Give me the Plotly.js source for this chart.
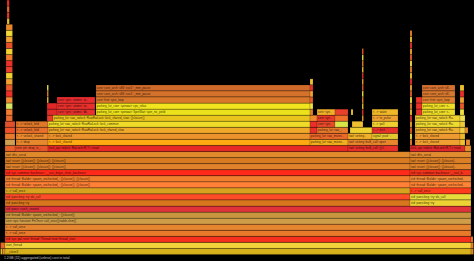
<!DOCTYPE html>
<html>
<head>
<meta charset="utf-8">
<script src="https://cdn.plot.ly/plotly-3.0.1.min.js"></script>
<style>html,body{margin:0;padding:0;background:#000;}#chart{width:474px;height:261px;}</style>
</head>
<body>
<div id="chart"></div>
<script>
// ---- Main frames (stack depth, first sample, sample count, function name) ----
const frameDepth = [
  0,0,0,0,
  1,1,1,
  2,2,
  3,4,5,6,7,
  8,8, 9,9, 10,10, 11,11, 12,12, 13,13, 14,14, 15,15, 16,16,
  17,17,17,17,17,
  18,18,18,18,18,18,18,
  19,19,19,19,19,19,19,
  20,20,20,20,20,20,20,20,20,
  21,21,21,21,21,21,21,21,21,
  22,22,22,22,22,22,22,22,
  23,23,23,23,23,23,23,23,23,
  24,24,24,24,24,
  25,25,25,25,
  26,26,
  27,27
];
const frameStart = [
  0.5,2.5,5,471,
  0.5,5,471,
  5,471,
  5,5,5,5,5,
  5,410, 5,410, 5,410, 5,410, 5,410, 5,410, 5,410, 5,410, 5,410,
  15,48,348,410,465,
  16,48,310,348,415,460,466,
  16,48,310,348,372,415,460,
  16,48,310,317,350,372,415,460,465,
  16,48,310,317,335,352,372,415,460,
  47,53,310,317,335,372,415,460,
  47,57,96,317,335,351,372,416,422,
  47,57,96,416,422,
  57,96,416,422,
  96,422,
  96,422
];
const frameSamples = [
  2,2.5,466,2.5,
  4.5,466,2.5,
  466,2,
  466,466,466,466,466,
  405,61, 405,61, 405,61, 405,61, 405,61, 405,61, 405,61, 405,61, 405,61,
  33,300,50,55,6,
  32,262,38,50,45,5,4,
  32,262,38,24,26,45,5,
  32,262,7,31,22,26,45,5,3,
  32,262,7,18,13,11,26,45,5,
  6,257,7,18,13,26,45,5,
  10,38,214,18,13,2,26,6,33,
  10,38,214,6,33,
  38,214,6,33,
  214,33,
  214,33
];
const frameName = [
  "","","__clone3","",
  "","start_thread","",
  "std::sys::pal::unix::thread::Thread::new::thread_start","",
  "<..>::call_once",
  "<..>::call_once",
  "core::ops::function::FnOnce::call_once{{vtable.shim}}",
  "std::thread::Builder::spawn_unchecked_::{{closure}}",
  "std::panic::catch_unwind",
  "std::panicking::try","std::panicking::try",
  "std::panicking::try::do_call","std::panicking::try::do_call",
  "<..>::call_once","<..>::call_once",
  "std::thread::Builder::spawn_unchecked_::{{closure}}::{{closure}}","std::thread::Builder::spawn_unchecked_::{{closure}}::{{closure}}",
  "std::thread::Builder::spawn_unchecked_::{{closure}}::{{closure}}","std::thread::Builder::spawn_unchecked_::{{closure}}::{{closure}}",
  "std::sys::common::backtrace::__rust_begin_short_backtrace","std::sys::common::backtrace::__rust_begin_short_backtrace",
  "tool::insert::{{closure}}::{{closure}}::{{closure}}","tool::insert::{{closure}}::{{closure}}::{{closure}}",
  "tool::insert::{{closure}}::{{closure}}::{{closure}}","tool::insert::{{closure}}::{{closure}}::{{closure}}",
  "tool::dhs_serial","tool::dhs_serial",
  "core::ptr::drop_in_place<parking_lot::RwLockReadGuard>","lock_api::rwlock::RwLock<R,T>::read","tool::setting::bulk_call::{{closure}}","lock_api::rwlock::RwLock<R,T>::read","",
  "<..>::drop","<..>::lock_shared","parking_lot::raw_mutex::RawMutex::lock","tool::setting::bulk_call::open","<..>::lock_shared","","",
  "<..>::unlock_shared","<..>::lock_shared","parking_lot::raw_mutex::RawMutex::lock_slow","tool::setting::get","signal::pool::Pool::get","<..>::lock_shared","",
  "<..>::unlock_fold","parking_lot::raw_rwlock::RawRwLock::lock_shared_slow","","parking_lot::raw_mutex::RawMutex::lock_slow","","<..>::lock","parking_lot::raw_rwlock::RawRwLock::lock_shared_slow","","",
  "<..>::unlock_fold","parking_lot::raw_rwlock::RawRwLock::lock_common","","core::sync::atomic::AtomicUsize::compare_exchange_weak","","","<..>::poll","parking_lot::raw_rwlock::RawRwLock::lock_common","",
  "","parking_lot::raw_rwlock::RawRwLock::lock_shared_slow::{{closure}}","","core::sync::atomic::atomic_compare_exchange_weak","","<..>::to_pulse","parking_lot::raw_rwlock::RawRwLock::lock_shared_slow::{{closure}}","",
  "","core::sync::atomic::AtomicUsize::load","parking_lot_core::spinwait::SpinWait::spin_no_yield","core::sync::atomic::AtomicUsize::load","","","<..>::wake","","parking_lot_core::spinwait::SpinWait::spin_no_yield",
  "","core::sync::atomic::atomic_load","parking_lot_core::spinwait::cpu_relax","","parking_lot_core::spinwait::cpu_relax",
  "core::sync::atomic::atomic_load","core::hint::spin_loop","","core::hint::spin_loop",
  "core::core_arch::x86::sse2::_mm_pause","core::core_arch::x86::sse2::_mm_pause",
  "core::core_arch::x86::sse2::_mm_pause","core::core_arch::x86::sse2::_mm_pause"
];

// ---- Left tall stack (depth, first sample, sample count) ----
const towerDepth   = [17,18,19,20,21,22,23,24,25,26,27,28,29,30,31,32,33,34,35,36,37,38,39,40,41];
const towerStart   = [5,5,5,5,5,6,6,6,6,6,6,6,6,6,6,6,6,6,6,6,6,7,7,7,7];
const towerSamples = [10,10,10,10,10,6.5,6.5,6.5,6.5,6.5,6.5,6.5,6.5,6.5,6.5,6.5,6.5,6.5,6.5,6.5,6.5,2.3,2.3,2.3,2.3];

// ---- Narrow deep stacks (first sample, sample count, lowest and highest depth) ----
const spikeStart   = [47, 362, 410, 310, 460];
const spikeSamples = [1.5, 1.5, 2, 3, 4];
const spikeBottom  = [25, 22, 18, 23, 23];
const spikeTop     = [27, 33, 36, 28, 27];

// ---- Footer ----
const footerText = "1.2GB (11) aggregated (unless) cost in total";

// ---- Styles (frame colours) ----
const frameColor = [
  "#e2c224","#e8902e","#d8b21c","#e0862c",
  "#e8682a","#f2d43a","#e87a2c",
  "#f5301c","#e0802a",
  "#e8782a","#e68530","#cf9c48","#c9953e","#e0343a",
  "#d8761e","#ecd232", "#ff4c28","#e6dc3c", "#d9a21e","#ff3c1c", "#ff8036","#ff8434", "#f07e2e","#f08a38",
  "#ff2a1a","#f2341c", "#e0822c","#e2842a", "#d87a22","#dc7e26", "#e08a2c","#e28c30",
  "#e8552a","#e62a26","#e8302a","#e02a2a","#e8902c",
  "#e8882c","#ffaa10","#f2b01e","#e8862c","#f0a030","#f0c030","#e88a2a",
  "#ec8a2e","#ec922c","#ee6a2a","#f0b028","#e8c830","#ef9a30","#f0b828",
  "#e8702a","#f0a828","#e8302a","#e87a2c","#f0d030","#e8302a","#f0b030","#f0d040","#e88a2a",
  "#e0782a","#f0dc28","#e83028","#e84a2a","#d8e64a","#f0c030","#f0d030","#f0dc30","#f0c838",
  "#e83a2a","#e9c41c","#f08a30","#e83a28","#f0702a","#f0a030","#f0d030","#f0e050",
  "#e02a2a","#e8302c","#ece21c","#f0b028","#e8402a","#f0c030","#f0b828","#e8322a","#ecdc28",
  "#e0282a","#e8302c","#f2e41e","#e8322a","#f0e026",
  "#e62c2e","#d9782a","#e8322a","#e0802e",
  "#d4722c","#d8782e",
  "#d06a2a","#d47030"
];
const towerColor = ["#e8602a","#d0a050","#e87a2a","#f05028","#e0502a","#e86a30","#f07a30","#d8e460","#f08a30","#e8302a","#e85a2a","#f0a030","#f0d030","#e8402a","#e8302a","#f07a2a","#f0d030","#e8502a","#f0a030","#f0d838","#e8882a","#f0c030","#e83a2a","#e8702a","#e8302a"];
const spikePalette = ["#e8302a","#f0c030","#e8802a","#f0e040","#e85a2a","#f0a030"];

// ---- Build the bar arrays ----
const D = [], S = [], W = [], N = [], C = [];
function add(d, s, w, n, c) { D.push(d); S.push(s); W.push(w); N.push(n); C.push(c); }
frameDepth.forEach((d, i) => add(d, frameStart[i], frameSamples[i], frameName[i], frameColor[i]));
towerDepth.forEach((d, i) => add(d, towerStart[i], towerSamples[i], "", towerColor[i]));
spikeStart.forEach((s, i) => {
  for (let d = spikeBottom[i]; d <= spikeTop[i]; d++) {
    add(d, s, spikeSamples[i], "", spikePalette[(d + i) % spikePalette.length]);
  }
});

function fitLabel(name, w) {
  const cw = 1.5;
  const max = Math.floor((w - 1.5) / cw);
  if (!name) return "";
  if (name.length <= max) return "\u00a0" + name;
  if (max < 4) return "";
  return "\u00a0" + name.slice(0, max - 2) + "..";
}
const labels = N.map((n, i) => fitLabel(n, W[i]));

const trace = {
  type: "bar",
  orientation: "h",
  y: D,
  x: W,
  base: S,
  text: labels,
  textposition: "inside",
  insidetextanchor: "start",
  constraintext: "none",
  textangle: 0,
  insidetextfont: { family: "Liberation Sans, Arial, sans-serif", size: 3, color: "rgba(0,0,0,0.8)" },
  marker: { color: C, line: { color: "rgba(0,0,0,0.45)", width: 0.35 } },
  hoverinfo: "skip"
};

const layout = {
  width: 474,
  height: 261,
  margin: { l: 0, r: 0, t: 0, b: 0, pad: 0 },
  paper_bgcolor: "#000",
  plot_bgcolor: "#000",
  showlegend: false,
  barmode: "overlay",
  bargap: 0.04,
  xaxis: { range: [0, 474], visible: false, fixedrange: true },
  yaxis: { range: [-1.568, 41.5], visible: false, fixedrange: true },
  annotations: [{
    text: footerText,
    xref: "paper", yref: "paper",
    x: 0.004, y: 0.013,
    xanchor: "left", yanchor: "middle",
    showarrow: false,
    font: { family: "Liberation Sans, Arial, sans-serif", size: 3.4, color: "#c8c8c8" }
  }]
};

Plotly.newPlot("chart", [trace], layout, { staticPlot: true, displayModeBar: false });
</script>
</body>
</html>
